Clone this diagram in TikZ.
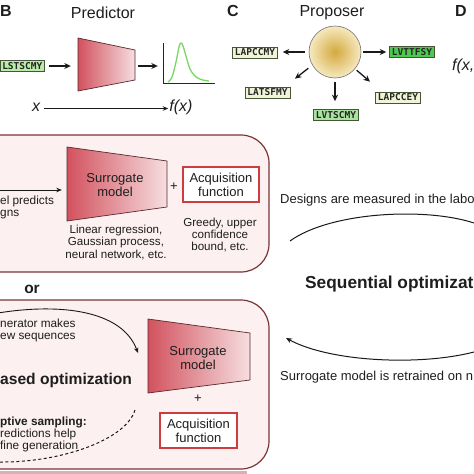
\documentclass[tikz,border=0pt]{standalone}
\usepackage{fontspec}
\setmainfont{Liberation Sans}
\newfontfamily\seqfont{DejaVu Sans Mono}
\usetikzlibrary{arrows.meta,calc}
\definecolor{trapL}{RGB}{210,82,94}
\definecolor{trapR}{RGB}{246,222,224}
\definecolor{trapB}{RGB}{90,40,45}
\definecolor{boxF}{RGB}{252,240,240}
\definecolor{boxB}{RGB}{122,52,55}
\definecolor{acqB}{RGB}{205,60,62}
\definecolor{seqB}{RGB}{70,85,55}
\definecolor{seqlight}{RGB}{240,245,216}
\definecolor{seqmid}{RGB}{168,228,160}
\definecolor{seqstrong}{RGB}{78,200,78}
\definecolor{seqpred}{RGB}{186,235,168}
\definecolor{circIn}{RGB}{212,170,62}
\definecolor{circOut}{RGB}{246,232,192}
\definecolor{curveG}{RGB}{120,215,100}
\definecolor{band}{RGB}{214,176,182}
\definecolor{txt}{RGB}{30,30,30}
\begin{document}
\begin{tikzpicture}[x=1pt,y=-1pt,
  title/.style={font=\fontsize{16}{18}\selectfont, text=txt, inner sep=0pt},
  panel/.style={font=\bfseries\fontsize{16}{18}\selectfont, text=txt, inner sep=0pt},
  seq/.style={draw=seqB, line width=0.6pt, font=\seqfont\bfseries\fontsize{9.5}{10}\selectfont, text=black!85, inner xsep=2.4pt, inner ysep=1.2pt, minimum height=11pt},
  arrbig/.style={-{Stealth[length=6.5pt,width=6pt]}, line width=1.3pt, black!90},
  arrthin/.style={-{Stealth[length=5.5pt,width=4.5pt]}, line width=0.9pt, black!90},
  arcline/.style={line width=1pt, black!90},
  trap/.style={left color=trapL, right color=trapR, draw=trapB, line width=0.7pt},
  roundbox/.style={fill=boxF, draw=boxB, line width=1.2pt, rounded corners=28pt},
  acq/.style={draw=acqB, line width=2.2pt, fill=white},
  mid/.style={font=\fontsize{13}{14}\selectfont, text=txt, inner sep=0pt, align=center},
  small/.style={font=\fontsize{11.6}{12.3}\selectfont, text=txt, inner sep=0pt, align=center},
  side/.style={font=\fontsize{11.8}{11.7}\selectfont, text=txt, inner sep=0pt, align=left, anchor=north west}
]
\useasboundingbox (0,0) rectangle (474,474);

% ---------------- B: Predictor ----------------
\node[panel, anchor=west] (B) at (0,11) {B};
\node[title] (predT) at (103,13) {Predictor};
\node[seq, fill=seqpred, anchor=east] (s0) at (45,66) {LSTSCMY};
\coordinate (pt1) at (78,38);
\coordinate (pt2) at (135,50);
\coordinate (pt3) at (135,80);
\coordinate (pt4) at (78,91);
\shadedraw[trap] (pt1) -- (pt2) -- (pt3) -- (pt4) -- cycle;
\node[inner sep=0pt, minimum width=57pt, minimum height=53pt] (pred) at (106.5,64.5) {};
\node[inner sep=0pt, minimum width=52pt, minimum height=40pt] (plot) at (189,63) {};
\coordinate (axTop) at (163,43);
\coordinate (axO) at (163,83);
\coordinate (axR) at (215,83);
\draw[line width=0.9pt, black!85] (axTop) -- (axO) -- (axR);
\draw[curveG, line width=1.3pt] plot[smooth, tension=0.6] coordinates
  {(168,82) (172,77) (176,62) (179,47) (181,43) (183,46) (186,56) (190,69) (195,76) (201,79.5) (209,81)};
\draw[arrbig, shorten <=4pt, shorten >=7pt] (s0.east) -- (pred.west |- s0.east);
\draw[arrbig, shorten <=3pt, shorten >=5pt] (pred.east |- s0.east) -- (plot.west |- s0.east);
\node[font=\itshape\fontsize{16}{18}\selectfont, text=txt, inner sep=0pt] (xl) at (36,107) {x};
\node[font=\itshape\fontsize{16}{18}\selectfont, text=txt, inner sep=0pt] (fx) at (181,107) {f(x)};
\draw[arrthin, shorten <=4pt, shorten >=1pt] (xl.east) ++(0,1.5) coordinate (xa) -- (fx.west |- xa);

% ---------------- C: Proposer ----------------
\node[panel] (C) at (233,11) {C};
\node[title] (propT) at (332,13) {Proposer};
\node[circle, draw=black!55, line width=0.6pt, inner color=circIn, outer color=circOut, minimum size=52pt, inner sep=0pt] (prop) at (335,52) {};
\node[seq, fill=seqlight] (LAPCCMY) at (255,52.5) {LAPCCMY};
\node[seq, fill=seqstrong] (LVTTFSY) at (412,52) {LVTTFSY};
\node[seq, fill=seqlight] (LATSFMY) at (267.5,92.5) {LATSFMY};
\node[seq, fill=seqmid] (LVTSCMY) at (336,115) {LVTSCMY};
\node[seq, fill=seqlight] (LAPCCEY) at (398,97.5) {LAPCCEY};
\draw[arrbig, shorten <=4pt, shorten >=5pt] (prop.west) -- (LAPCCMY.east |- prop.west);
\draw[arrbig, shorten <=2pt, shorten >=3pt] (prop.east) -- (LVTTFSY.west |- prop.east);
\draw[arrbig, shorten <=4pt, shorten >=8pt] (prop.south) -- (prop.south |- LVTSCMY.north);
\coordinate (llEnd) at ($(LATSFMY.north)+(27.5,-8)$);
\draw[arrbig, shorten <=5pt] (prop.-150) -- (llEnd);
\coordinate (lrEnd) at ($(LAPCCEY.north)+(-28,-10)$);
\draw[arrbig, shorten <=2pt] (prop.-40) -- (lrEnd);

% ---------------- D ----------------
\node[panel] (D) at (461,11) {D};
\node[font=\itshape\fontsize{16}{18}\selectfont, text=txt, inner sep=0pt, anchor=west] (fxD) at (452,66) {f(x,};

% ---------------- middle box ----------------
\draw[roundbox] (-30,135) rectangle (269,272);
\coordinate (inL) at (-5,190);
\node[side] (mp) at (0,196) {el predicts\\gns};
\coordinate (sm1) at (67,147);
\coordinate (sm2) at (167,161);
\coordinate (sm3) at (167,207);
\coordinate (sm4) at (67,221);
\shadedraw[trap] (sm1) -- (sm2) -- (sm3) -- (sm4) -- cycle;
\node[inner sep=0pt, minimum width=100pt, minimum height=74pt] (surrA) at (117,184) {};
\node[mid] (surrAT) at (115,185.5) {Surrogate\\model};
\draw[arrthin, shorten >=5pt] (inL) -- (surrA.west |- inL);
\node[small] (linreg) at (116,242.5) {Linear regression,\\Gaussian process,\\neural network, etc.};
\node[mid] (plusA) at (174,187) {+};
\node[acq, minimum width=76pt, minimum height=35pt, inner sep=0pt] (acqA) at (221,184.5) {};
\node[mid] (acqAT) at (221,185) {Acquisition\\function};
\node[small] (greedy) at (220,235) {Greedy, upper\\confidence\\bound, etc.};

% ---------------- sequential optimization ----------------
\node[font=\fontsize{13}{14}\selectfont, text=txt, inner sep=0pt, anchor=west] (meas) at (280,200) {Designs are measured in the labo};
\coordinate (tA) at (290,241);
\coordinate (tB) at (474,223);
\draw[arcline] (tA) .. controls (330,212) and (425,207) .. (tB);
\node[font=\bfseries\fontsize{17.3}{19}\selectfont, text=txt, inner sep=0pt, anchor=west] (seqopt) at (305,284) {Sequential optimizat};
\coordinate (bA) at (474,352);
\coordinate (bB) at (286,338);
\draw[arcline, -{Stealth[length=6pt,width=5pt]}] (bA) .. controls (420,366) and (330,362) .. (bB);
\node[font=\fontsize{13}{14}\selectfont, text=txt, inner sep=0pt, anchor=west] (retr) at (280,377) {Surrogate model is retrained on n};

% ---------------- or ----------------
\node[font=\bfseries\fontsize{15.5}{17}\selectfont, text=txt, inner sep=0pt] (orT) at (32,289) {or};

% ---------------- bottom box ----------------
\draw[roundbox] (-30,300) rectangle (269,469);
\fill[band] (0,471) rectangle (247,474);
\coordinate (gS) at (-2,313);
\coordinate (gE) at (138,353);
\draw[arrthin] (gS) .. controls (60,303) and (122,310) .. (gE);
\node[side] (gen) at (0,319) {nerator makes\\ew sequences};
\node[font=\bfseries\fontsize{15.6}{17}\selectfont, text=txt, inner sep=0pt, anchor=west] (mbo) at (0,380) {ased optimization};
\node[side] (ad) at (0,417) {\textbf{ptive sampling:}\\redictions help\\fine generation};
\coordinate (dS) at (135,410);
\coordinate (dE) at (-2,462);
\draw[arcline, dash pattern=on 3pt off 2.5pt] (dS) .. controls (126,440) and (60,463) .. (dE);
\coordinate (sb1) at (148,319);
\coordinate (sb2) at (250,333);
\coordinate (sb3) at (250,380);
\coordinate (sb4) at (148,393);
\shadedraw[trap] (sb1) -- (sb2) -- (sb3) -- (sb4) -- cycle;
\node[mid] (surrBT) at (198,358) {Surrogate\\model};
\node[mid] (plusB) at (198,399) {+};
\node[acq, minimum width=77pt, minimum height=35pt, inner sep=0pt] (acqB) at (198.5,430.5) {};
\node[mid] (acqBT) at (198.5,431) {Acquisition\\function};
\end{tikzpicture}
\end{document}
